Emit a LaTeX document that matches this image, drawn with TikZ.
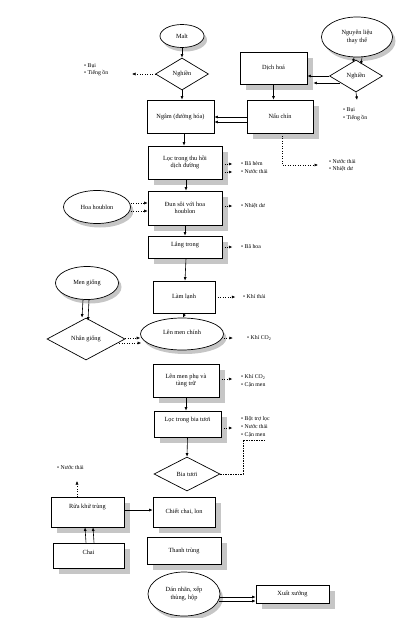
\documentclass[tikz,border=0pt]{standalone}
\usepackage{fontspec}
\setmainfont{Liberation Serif}
\usetikzlibrary{shapes.geometric,arrows.meta,shadows}
\begin{document}
\begin{tikzpicture}[x=1pt,y=-1pt,
  every node/.style={font=\fontsize{6.3}{7.6}\selectfont, align=center, inner sep=1pt},
  shd/.style={drop shadow={shadow xshift=6pt,shadow yshift=-6pt,fill=gray!45,opacity=1}},
  eshd/.style={drop shadow={shadow xshift=3pt,shadow yshift=-4pt,fill=gray!45,opacity=1}},
  box/.style={draw, line width=0.7pt, fill=white, rectangle},
  ell/.style={draw, line width=0.7pt, fill=white, ellipse, inner sep=0pt},
  dia/.style={draw, line width=0.7pt, fill=white, diamond, inner sep=0pt},
  arr/.style={-{Latex[length=3.5pt,width=3pt]}, line width=0.6pt},
  darr/.style={-{Latex[length=3.5pt,width=3pt]}, line width=0.5pt, dotted},
  lbl/.style={anchor=west, font=\fontsize{5.8}{7}\selectfont, inner sep=0pt},
]
\useasboundingbox (0,0) rectangle (413,618);

% ---- nodes ----
\node[ell, eshd, minimum width=44pt, minimum height=23pt] (malt) at (182,36) {Malt};
\node[dia, minimum width=53pt, minimum height=32pt] (ng1) at (182,74) {Nghiền};
\node[box, minimum width=67pt, minimum height=33pt] (ngam) at (180.5,116.5) {Ngâm (đường hóa)};

\node[ell, eshd, minimum width=71pt, minimum height=40pt] (nlieu) at (357,37) {Nguyên liệu\\thay thế};
\node[dia, minimum width=53pt, minimum height=32pt] (ng2) at (356,76) {Nghiền};
\node[box, shd, minimum width=67pt, minimum height=32pt] (dichhoa) at (273.5,68) {Dịch hoá};
\node[box, shd, minimum width=66pt, minimum height=33pt] (nauchin) at (280,116.5) {Nấu chín};

\node[box, shd, minimum width=74pt, minimum height=33pt] (loc1) at (185,162.5) {Lọc trong thu hồi\\dịch đường};
\node[box, shd, minimum width=74pt, minimum height=34pt] (dunsoi) at (185,208) {Đun sôi với hoa\\houblon};
\node[ell, eshd, minimum width=67pt, minimum height=33pt] (hoa) at (97,207) {Hoa houblon};
\node[box, shd, minimum width=74pt, minimum height=22pt, text depth=5pt] (lang) at (185,247) {Lắng trong};
\node[box, minimum width=62pt, minimum height=32pt] (lamlanh) at (184,297) {Làm lạnh};
\node[ell, eshd, minimum width=83pt, minimum height=32pt, text depth=4pt] (lenmen) at (182,334) {Lên men chính};
\node[ell, eshd, minimum width=63pt, minimum height=33pt] (mengiong) at (87,283) {Men giống};
\node[dia, minimum width=78pt, minimum height=42pt] (nhan) at (86,339) {Nhân giống};

\node[box, shd, minimum width=66pt, minimum height=33pt] (lenmenphu) at (186,380.5) {Lên men phụ và\\tàng trữ};
\node[box, shd, minimum width=67pt, minimum height=26pt, text depth=10pt] (loc2) at (187.5,424) {Lọc trong bia tươi};
\node[dia, minimum width=66pt, minimum height=34pt] (biatuoi) at (187,474) {Bia tươi};

\node[box, shd, minimum width=73pt, minimum height=30pt, text depth=12pt] (rua) at (87.5,512) {Rửa khử trùng};
\node[box, shd, minimum width=62pt, minimum height=30pt] (chiet) at (184,512) {Chiết chai, lon};
\node[box, shd, minimum width=71pt, minimum height=25pt, text depth=7pt] (chai) at (88.5,555.5) {Chai};
\node[box, shd, minimum width=74pt, minimum height=27pt] (thanh) at (184,550.5) {Thanh trùng};
\node[ell, eshd, minimum width=72pt, minimum height=44pt] (dannhan) at (184,594) {Dán nhãn, xếp\\thùng, hộp};
\node[box, shd, minimum width=73pt, minimum height=18pt] (xuat) at (292.5,594) {Xuất xưởng};

% ---- free ends ----
\coordinate (e1) at (132,74);
\coordinate (e2) at (357,100);
\coordinate (e3) at (318,165);
\coordinate (e4) at (77,481);
\coordinate (c1) at (243,474);
\coordinate (c2) at (243,440);
\coordinate (c3) at (266,440);
\coordinate (g2) at ([shift={(11pt,-7pt)}]ng2.west);

% ---- labels ----
\node[lbl] (t1) at (84,66) {• Bụi};
\node[lbl] (t2) at (84,73) {• Tiếng ồn};
\node[lbl] (t3) at (343,110) {• Bụi};
\node[lbl] (t4) at (343,118) {• Tiếng ồn};
\node[lbl] (t5) at (329,162) {• Nước thải};
\node[lbl] (t6) at (329,169) {• Nhiệt dư};
\node[lbl] (t7) at (241,164) {• Bã hèm};
\node[lbl] (t8) at (241,172) {• Nước thải};
\node[lbl] (t9) at (241,206) {• Nhiệt dư};
\node[lbl] (t10) at (241,247) {• Bã hoa};
\node[lbl] (t11) at (243,297) {• Khí thải};
\node[lbl] (t12) at (247,338) {• Khí CO\textsubscript{2}};
\node[lbl] (t13) at (241,377) {• Khí CO\textsubscript{2}};
\node[lbl] (t14) at (241,385) {• Cặn men};
\node[lbl] (t15) at (241,419) {• Bột trợ lọc};
\node[lbl] (t16) at (241,427) {• Nước thải};
\node[lbl] (t17) at (241,435) {• Cặn men};
\node[lbl] (t18) at (57,468) {• Nước thải};

% ---- connectors ----
\draw[arr] (malt.south) -- (ng1.north);
\draw[darr] (ng1.west) -- (e1);
\draw[arr] (ng1.south) -- (ng1.south |- ngam.north);

\draw[arr] ([xshift=-3pt]nlieu.south) -- ([xshift=-3pt,yshift=-3pt]ng2.north);
\draw[arr] ([xshift=5pt]nlieu.south) -- ([xshift=5pt,yshift=-5pt]ng2.north);
\draw[arr] (ng2.south) -- (e2);
\draw[arr] (ng2.west) -- (ng2.west -| dichhoa.east);
\draw[arr] (g2) -- ([xshift=6pt]g2 -| dichhoa.east);
\draw[arr] (dichhoa.south) -- (dichhoa.south |- nauchin.north);
\draw[arr] ([yshift=-0.5pt]nauchin.west) -- ([yshift=-0.5pt]nauchin.west -| ngam.east);
\draw[arr] ([yshift=-5.5pt]nauchin.west) -- ([yshift=-5.5pt]nauchin.west -| ngam.east);
\draw[darr] ([xshift=2pt]nauchin.south) |- (e3);

\draw[arr] ([xshift=3.5pt]ngam.south) -- ([xshift=3.5pt]ngam.south |- loc1.north);
\draw[darr] ([yshift=-1.5pt]loc1.east) -- ++(10pt,0pt);
\draw[darr] ([yshift=-9.5pt]loc1.east) -- ++(10pt,0pt);
\draw[arr] ([xshift=1pt]loc1.south) -- ([xshift=1pt]dunsoi.north);
\draw[darr] ([yshift=-4pt]hoa.east) -- ([yshift=-4pt]hoa.east -| dunsoi.west);
\draw[darr] ([yshift=4pt]hoa.east) -- ([yshift=4pt]hoa.east -| dunsoi.west);
\draw[darr] ([yshift=2pt]dunsoi.east) -- ++(10pt,0pt);
\draw[arr] (dunsoi.south) -- (lang.north);
\draw[darr] (lang.east) -- ++(10pt,0pt);
\draw[arr] ([xshift=1pt]lang.south) -- ([xshift=1pt]lamlanh.north);
\draw[darr] (lamlanh.east) -- ++(20pt,0pt);
\draw[arr] ([xshift=1pt]lamlanh.south) -- ([xshift=1pt]lenmen.north);
\draw[darr] ([yshift=-4pt]lenmen.east) -- ++(9pt,0pt);

\draw[arr] ([xshift=-4pt]mengiong.south) -- ([xshift=-4pt]nhan.north);
\draw[arr] ([xshift=2pt]mengiong.south) -- ([xshift=2pt,yshift=-3pt]nhan.north);
\draw[darr] ([yshift=1pt]nhan.east) -- ([yshift=1pt]nhan.east -| lenmen.west);
\draw[darr] ([yshift=-4pt,xshift=-6pt]nhan.east) -- ([yshift=-4pt,xshift=1pt]nhan.east -| lenmen.west);

\draw[darr] ([yshift=1.5pt]lenmenphu.east) -- ++(13pt,0pt);
\draw[arr] (lenmenphu.south) -- (lenmenphu.south |- loc2.north);
\draw[darr] ([yshift=-4pt]loc2.east) -- ++(11pt,0pt);
\draw[arr] (loc2.south) -- (biatuoi.north);
\draw[line width=0.5pt, dash pattern=on 1.5pt off 1pt] (biatuoi.east) -- (c1) -- (c2) -- (c3);

\draw[darr] ([xshift=-10.5pt]rua.north) -- (e4);
\draw[arr] ([yshift=2pt]rua.east) -- ([yshift=2pt]rua.east -| chiet.west);
\draw[arr] ([xshift=-2.5pt]chai.north) -- ([xshift=-2.5pt]rua.south);
\draw[arr] ([xshift=5.5pt]chai.north) -- ([xshift=5.5pt]rua.south);

\draw[arr] ([yshift=-3pt]dannhan.east) -- ([yshift=-3pt]dannhan.east -| xuat.west);
\draw[arr] ([yshift=-7pt,xshift=-1pt]dannhan.east) -- ([yshift=-7pt]dannhan.east -| xuat.west);
\end{tikzpicture}
\end{document}
